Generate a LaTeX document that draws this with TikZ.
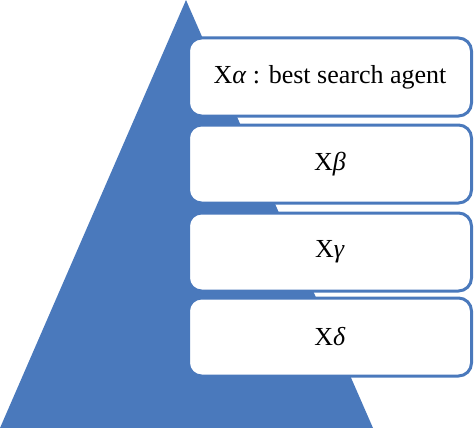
\documentclass[tikz,border=0pt]{standalone}
\usepackage{fontspec}
\setmainfont{Liberation Serif}
\definecolor{pyblue}{RGB}{74,121,188}
\begin{document}
\begin{tikzpicture}[x=1pt,y=-1pt,
  level/.style={draw=pyblue,line width=3pt,fill=white,rounded corners=13pt,
    minimum width=283pt,minimum height=78pt,inner sep=0pt,font=\fontsize{26}{30}\selectfont}]
\useasboundingbox (0,0) rectangle (474,428);
\fill[pyblue] (186,0) -- (373,428) -- (0,428) -- cycle;
\node[level] (a) at (330,77) {X\textit{α} : best search agent};
\node[level] (b) at (330,164) {X\textit{β}};
\node[level] (c) at (330,252) {X\textit{γ}};
\node[level] (d) at (330,337) {X\textit{δ}};
\end{tikzpicture}
\end{document}
